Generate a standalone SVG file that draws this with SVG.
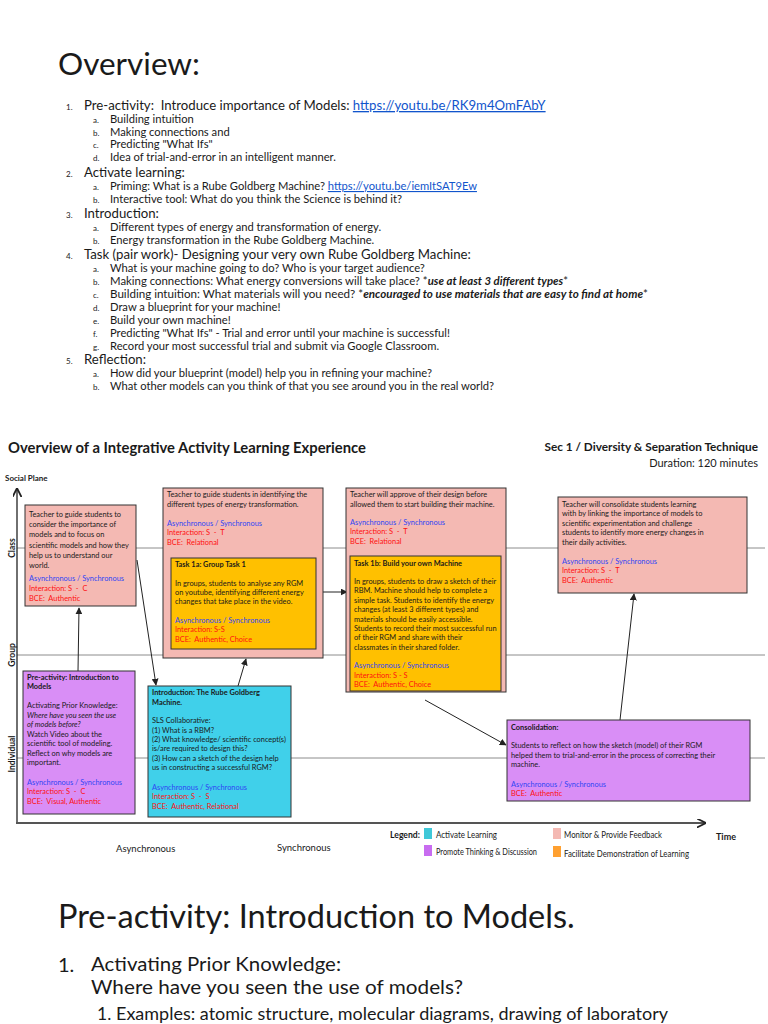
<svg xmlns="http://www.w3.org/2000/svg" width="768" height="1024" viewBox="0 0 768 1024">
<defs>
<style>
text{font-family:Lato,"Open Sans","Liberation Sans",sans-serif;fill:#1a1a1a;white-space:pre}
.h1{font-size:31.5px}
.li{font-size:13.2px}
.num{font-size:8px}
.sub{font-size:11.2px}
.let{font-size:8px}
.lnk{fill:#1155cc;text-decoration:underline}
.t{font-size:7.4px}
.bd{font-weight:bold}
.bl{fill:#2f45f5}
.rd{fill:#ff1010}
.pink{fill:#f4b9b3;stroke:#333;stroke-width:1}
.org{fill:#ffc000;stroke:#333;stroke-width:1}
.pur{fill:#d98ef6;stroke:#333;stroke-width:1}
.cy{fill:#40d0ea;stroke:#333;stroke-width:1}
.grid{stroke:#8c8c8c;stroke-width:1;fill:none}
.con{stroke:#222;stroke-width:1;fill:none;marker-end:url(#ah)}
.lg{font-size:9px}
</style>
<marker id="ah" viewBox="0 0 10 10" refX="9" refY="5" markerWidth="7" markerHeight="7" orient="auto-start-reverse" markerUnits="userSpaceOnUse">
<path d="M0,0 L10,5 L0,10 z" fill="#222"/>
</marker>
<marker id="ahx" viewBox="0 0 10 10" refX="9" refY="5" markerWidth="9" markerHeight="9" orient="auto" markerUnits="userSpaceOnUse">
<path d="M0,0 L10,5 L0,10" fill="none" stroke="#222" stroke-width="2"/>
</marker>
</defs>
<rect width="768" height="1024" fill="#fff"/>

<g id="overview">
<text x="58" y="75" class="h1">Overview:</text>
<text x="66" y="110" class="num">1.</text>
<text x="84" y="110" class="li">Pre-activity:  Introduce importance of Models: <tspan class="lnk">https://youtu.be/RK9m4OmFAbY</tspan></text>
<text x="93" y="123" class="let">a.</text><text x="110" y="123" class="sub">Building intuition</text>
<text x="93" y="136" class="let">b.</text><text x="110" y="136" class="sub">Making connections and</text>
<text x="93" y="148" class="let">c.</text><text x="110" y="148" class="sub">Predicting "What Ifs"</text>
<text x="93" y="161" class="let">d.</text><text x="110" y="161" class="sub">Idea of trial-and-error in an intelligent manner.</text>
<text x="66" y="177" class="num">2.</text>
<text x="84" y="177" class="li">Activate learning:</text>
<text x="93" y="190" class="let">a.</text><text x="110" y="190" class="sub">Priming: What is a Rube Goldberg Machine? <tspan class="lnk">https://youtu.be/iemItSAT9Ew</tspan></text>
<text x="93" y="203" class="let">b.</text><text x="110" y="203" class="sub">Interactive tool: What do you think the Science is behind it?</text>
<text x="66" y="218" class="num">3.</text>
<text x="84" y="218" class="li">Introduction:</text>
<text x="93" y="231" class="let">a.</text><text x="110" y="231" class="sub">Different types of energy and transformation of energy.</text>
<text x="93" y="244" class="let">b.</text><text x="110" y="244" class="sub">Energy transformation in the Rube Goldberg Machine.</text>
<text x="66" y="259" class="num">4.</text>
<text x="84" y="259" class="li">Task (pair work)- Designing your very own Rube Goldberg Machine:</text>
<text x="93" y="272" class="let">a.</text><text x="110" y="272" class="sub">What is your machine going to do? Who is your target audience?</text>
<text x="93" y="285" class="let">b.</text><text x="110" y="285" class="sub" textLength="458" lengthAdjust="spacingAndGlyphs">Making connections: What energy conversions will take place? *<tspan font-weight="bold" font-style="italic">use at least 3 different types</tspan>*</text>
<text x="93" y="298" class="let">c.</text><text x="110" y="298" class="sub" textLength="538" lengthAdjust="spacingAndGlyphs">Building intuition: What materials will you need? *<tspan font-weight="bold" font-style="italic">encouraged to use materials that are easy to find at home</tspan>*</text>
<text x="93" y="311" class="let">d.</text><text x="110" y="311" class="sub">Draw a blueprint for your machine!</text>
<text x="93" y="324" class="let">e.</text><text x="110" y="324" class="sub">Build your own machine!</text>
<text x="93" y="337" class="let">f.</text><text x="110" y="337" class="sub">Predicting "What Ifs" - Trial and error until your machine is successful!</text>
<text x="93" y="350" class="let">g.</text><text x="110" y="350" class="sub">Record your most successful trial and submit via Google Classroom.</text>
<text x="66" y="364" class="num">5.</text>
<text x="84" y="364" class="li">Reflection:</text>
<text x="93" y="377" class="let">a.</text><text x="110" y="377" class="sub">How did your blueprint (model) help you in refining your machine?</text>
<text x="93" y="390" class="let">b.</text><text x="110" y="390" class="sub">What other models can you think of that you see around you in the real world?</text>
</g>

<g id="diagram-header">
<text x="8" y="453" font-size="14.8" font-weight="bold">Overview of a Integrative Activity Learning Experience</text>
<text x="758" y="451" font-size="11.8" font-weight="bold" text-anchor="end">Sec 1 / Diversity &amp; Separation Technique</text>
<text x="758" y="467" font-size="11" text-anchor="end">Duration: 120 minutes</text>
<text x="5" y="481" font-size="8" font-weight="bold">Social Plane</text>
</g>

<g id="axes">
<line x1="17" y1="548" x2="765" y2="548" class="grid"/>
<line x1="17" y1="655" x2="765" y2="655" class="grid"/>
<line x1="17" y1="758" x2="765" y2="758" class="grid"/>
<line x1="17" y1="823" x2="17" y2="489" stroke="#222" stroke-width="1.3" marker-end="url(#ahx)"/>
<line x1="16" y1="823" x2="705" y2="823" stroke="#555" stroke-width="2.2" marker-end="url(#ahx)"/>
<text transform="translate(15,548) rotate(-90)" font-size="8.5" font-weight="bold" text-anchor="middle">Class</text>
<text transform="translate(15,655) rotate(-90)" font-size="8.5" font-weight="bold" text-anchor="middle">Group</text>
<text transform="translate(15,754) rotate(-90)" font-size="8.5" font-weight="bold" text-anchor="middle">Individual</text>
<text x="716" y="840" font-size="9" font-weight="bold">Time</text>
<text x="116" y="852" font-size="9.5">Asynchronous</text>
<text x="277" y="851" font-size="9.5">Synchronous</text>
</g>

<g id="connectors">
<line x1="78" y1="671" x2="79" y2="608" class="con"/>
<line x1="137" y1="560" x2="156" y2="685" class="con"/>
<line x1="238" y1="686" x2="246" y2="659" class="con"/>
<line x1="323" y1="592" x2="347" y2="592" class="con"/>
<line x1="425" y1="700" x2="506" y2="745" class="con"/>
<line x1="620" y1="720" x2="634" y2="594" class="con"/>
</g>

<g id="node-teacher-guide">
<rect x="25" y="505" width="111" height="101" class="pink"/>
<text class="t" x="29" y="517">Teacher to guide students to</text>
<text class="t" x="29" y="527">consider the importance of</text>
<text class="t" x="29" y="537">models and to focus on</text>
<text class="t" x="29" y="548">scientific models and how they</text>
<text class="t" x="29" y="558">help us to understand our</text>
<text class="t" x="29" y="568">world.</text>
<text class="t bl" x="29" y="581">Asynchronous / Synchronous</text>
<text class="t rd" x="29" y="591">Interaction: S  -  C</text>
<text class="t rd" x="29" y="601">BCE:  Authentic</text>
</g>

<g id="node-teacher-identify">
<rect x="163" y="488" width="160" height="170" class="pink"/>
<text class="t" x="167" y="497">Teacher to guide students in identifying the</text>
<text class="t" x="167" y="507">different types of energy transformation.</text>
<text class="t bl" x="167" y="526">Asynchronous / Synchronous</text>
<text class="t rd" x="167" y="535">Interaction: S  -  T</text>
<text class="t rd" x="167" y="545">BCE:  Relational</text>
</g>

<g id="node-task1a">
<rect x="171" y="558" width="145" height="91" class="org"/>
<text class="t bd" x="175" y="567">Task 1a: Group Task 1</text>
<text class="t" x="175" y="586">In groups, students to analyse any RGM</text>
<text class="t" x="175" y="595">on youtube, identifying different energy</text>
<text class="t" x="175" y="604">changes that take place in the video.</text>
<text class="t bl" x="175" y="623">Asynchronous / Synchronous</text>
<text class="t rd" x="175" y="632">Interaction: S-S</text>
<text class="t rd" x="175" y="642">BCE:  Authentic, Choice</text>
</g>

<g id="node-teacher-approve">
<rect x="346" y="488" width="160" height="204" class="pink"/>
<text class="t" x="350" y="497">Teacher will approve of their design before</text>
<text class="t" x="350" y="507">allowed them to start building their machine.</text>
<text class="t bl" x="350" y="525">Asynchronous / Synchronous</text>
<text class="t rd" x="350" y="534">Interaction: S  -  T</text>
<text class="t rd" x="350" y="544">BCE:  Relational</text>
</g>

<g id="node-task1b">
<rect x="350" y="556" width="151" height="135" class="org"/>
<text class="t bd" x="354" y="566">Task 1b: Build your own Machine</text>
<text class="t" x="354" y="584">In groups, students to draw a sketch of their</text>
<text class="t" x="354" y="593">RBM. Machine should help to complete a</text>
<text class="t" x="354" y="603">simple task. Students to identify the energy</text>
<text class="t" x="354" y="612">changes (at least 3 different types) and</text>
<text class="t" x="354" y="622">materials should be easily accessible.</text>
<text class="t" x="354" y="631">Students to record their most successful run</text>
<text class="t" x="354" y="640">of their RGM and share with their</text>
<text class="t" x="354" y="650">classmates in their shared folder.</text>
<text class="t bl" x="354" y="668">Asynchronous / Synchronous</text>
<text class="t rd" x="354" y="678">Interaction: S - S</text>
<text class="t rd" x="354" y="687">BCE:  Authentic, Choice</text>
</g>

<g id="node-teacher-consolidate">
<rect x="558" y="497" width="189" height="96" class="pink"/>
<text class="t" x="562" y="507">Teacher will consolidate students learning</text>
<text class="t" x="562" y="516">with by linking the importance of models to</text>
<text class="t" x="562" y="526">scientific experimentation and challenge</text>
<text class="t" x="562" y="535">students to identify more energy changes in</text>
<text class="t" x="562" y="545">their daily activities.</text>
<text class="t bl" x="562" y="564">Asynchronous / Synchronous</text>
<text class="t rd" x="562" y="573">Interaction: S  -  T</text>
<text class="t rd" x="562" y="583">BCE:  Authentic</text>
</g>

<g id="node-preactivity">
<rect x="23" y="671" width="112" height="143" class="pur"/>
<text class="t bd" x="27" y="680">Pre-activity: Introduction to</text>
<text class="t bd" x="27" y="689">Models</text>
<text class="t" x="27" y="708">Activating Prior Knowledge:</text>
<text class="t" x="27" y="718" font-style="italic">Where have you seen the use</text>
<text class="t" x="27" y="727" font-style="italic">of models before?</text>
<text class="t" x="27" y="737">Watch Video about the</text>
<text class="t" x="27" y="746">scientific tool of modeling.</text>
<text class="t" x="27" y="756">Reflect on why models are</text>
<text class="t" x="27" y="765">important.</text>
<text class="t bl" x="27" y="785">Asynchronous / Synchronous</text>
<text class="t rd" x="27" y="794">Interaction: S  -  C</text>
<text class="t rd" x="27" y="804">BCE:  Visual, Authentic</text>
</g>

<g id="node-introduction">
<rect x="148" y="686" width="143" height="131" class="cy"/>
<text class="t bd" x="152" y="695">Introduction: The Rube Goldberg</text>
<text class="t bd" x="152" y="705">Machine.</text>
<text class="t" x="152" y="723">SLS Collaborative:</text>
<text class="t" x="152" y="733">(1) What is a RBM?</text>
<text class="t" x="152" y="742">(2) What knowledge/ scientific concept(s)</text>
<text class="t" x="152" y="751">is/are required to design this?</text>
<text class="t" x="152" y="761">(3) How can a sketch of the design help</text>
<text class="t" x="152" y="770">us in constructing a successful RGM?</text>
<text class="t bl" x="152" y="790">Asynchronous / Synchronous</text>
<text class="t rd" x="152" y="799">Interaction: S  -  S</text>
<text class="t rd" x="152" y="809">BCE:  Authentic, Relational</text>
</g>

<g id="node-consolidation">
<rect x="507" y="720" width="243" height="81" class="pur"/>
<text class="t bd" x="511" y="730">Consolidation:</text>
<text class="t" x="511" y="748">Students to reflect on how the sketch (model) of their RGM</text>
<text class="t" x="511" y="758">helped them to trial-and-error in the process of correcting their</text>
<text class="t" x="511" y="767">machine.</text>
<text class="t bl" x="511" y="787">Asynchronous / Synchronous</text>
<text class="t rd" x="511" y="796">BCE:  Authentic</text>
</g>

<g id="legend">
<text x="390" y="838" class="lg" font-weight="bold" textLength="30" lengthAdjust="spacingAndGlyphs">Legend:</text>
<rect x="424" y="828" width="8" height="11" fill="#40c8d8"/>
<text x="436" y="838" class="lg" textLength="61" lengthAdjust="spacingAndGlyphs">Activate Learning</text>
<rect x="553" y="828" width="8" height="11" fill="#f4b9b3"/>
<text x="564" y="838" class="lg" textLength="98" lengthAdjust="spacingAndGlyphs">Monitor &amp; Provide Feedback</text>
<rect x="424" y="845" width="8" height="11" fill="#c86cf0"/>
<text x="436" y="855" class="lg" textLength="101" lengthAdjust="spacingAndGlyphs">Promote Thinking &amp; Discussion</text>
<rect x="553" y="846" width="8" height="11" fill="#ffa030"/>
<text x="564" y="857" class="lg" textLength="125" lengthAdjust="spacingAndGlyphs">Facilitate Demonstration of Learning</text>
</g>

<g id="preactivity-section">
<text x="58" y="928" font-size="32.5">Pre-activity: Introduction to Models.</text>
<text x="58" y="972" font-size="20">1.</text>
<text x="91" y="971" font-size="19.5" textLength="250" lengthAdjust="spacingAndGlyphs">Activating Prior Knowledge:</text>
<text x="91" y="994" font-size="19.5" textLength="372" lengthAdjust="spacingAndGlyphs">Where have you seen the use of models?</text>
<text x="97" y="1020" font-size="17.5">1.</text>
<text x="116" y="1020" font-size="17.5" textLength="552" lengthAdjust="spacingAndGlyphs">Examples: atomic structure, molecular diagrams, drawing of laboratory</text>
</g>
</svg>
